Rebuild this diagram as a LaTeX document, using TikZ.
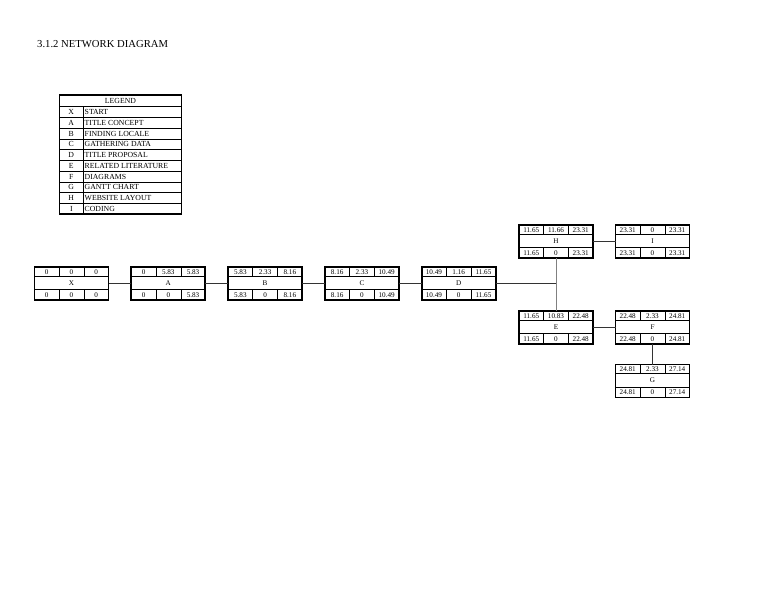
\documentclass[tikz,border=0pt]{standalone}
\usepackage{fontspec}
\setmainfont{Liberation Serif}
\usepackage{tikz}
\newcommand{\pxl}[0] {1.03125pt}
\newcommand{\cellfont}[0] {\fontsize{7.4}{8}\selectfont}
\tikzset{
    actbox/.style={shape=rectangle,draw=black,line width=2pt,inner sep=0pt,outer sep=0pt,
        minimum width=74*\pxl,minimum height=33*\pxl},
    cell/.style={inner sep=0pt,font=\cellfont},
    legtxt/.style={inner sep=0pt,font=\fontsize{8}{9}\selectfont},
    link/.style={-, line width=0.7pt, black!80}
}
%one activity box: name, centre, label, ES, duration, EF, LS, slack, LF
\newcommand{\actnode}[9]{%
    \node[actbox] (#1) at (#2) {};
    \begin{scope}[shift={(#1.north west)}]
        \draw[line width=0.5pt] (0,9) -- (74,9) (0,22.5) -- (74,22.5);
        \draw[line width=0.5pt] (24.5,0) -- (24.5,9) (49.5,0) -- (49.5,9);
        \draw[line width=0.5pt] (24.5,22.5) -- (24.5,33) (49.5,22.5) -- (49.5,33);
        \node[cell] (#1-es) at (12.25,4.7)  {#4};
        \node[cell] (#1-du) at (37,4.7)     {#5};
        \node[cell] (#1-ef) at (61.75,4.7)  {#6};
        \node[cell] (#1-lb) at (37,15.8)    {#3};
        \node[cell] (#1-ls) at (12.25,27.8) {#7};
        \node[cell] (#1-sl) at (37,27.8)    {#8};
        \node[cell] (#1-lf) at (61.75,27.8) {#9};
    \end{scope}}

\begin{document}
\begin{tikzpicture}[x=\pxl, y=-\pxl]
        \useasboundingbox (0,0) rectangle (768,594);
        %title
        \node[anchor=base west, inner sep=0pt, font=\fontsize{11}{13}\selectfont] (title) at (37,48) {3.1.2 NETWORK DIAGRAM};
        %legend
        \node[shape=rectangle,draw=black,line width=1.5pt,minimum width=122.4*\pxl,minimum height=119*\pxl,inner sep=0pt] (legend) at (120.5,154.5) {};
        \node[legtxt] (legend-head) at (120.5,101) {LEGEND};
        \draw[line width=0.5pt] (59.3,106.5) -- (181.7,106.5);
        \draw[line width=0.5pt] (83.3,106.5) -- (83.3,214);
        \foreach \k/\desc [count=\i] in {X/START,A/TITLE CONCEPT,B/FINDING LOCALE,C/GATHERING DATA,D/TITLE PROPOSAL,E/RELATED LITERATURE,F/DIAGRAMS,G/GANTT CHART,H/WEBSITE LAYOUT,I/CODING} {
            \pgfmathsetmacro{\ytop}{106.5+(\i-1)*10.75}
            \node[legtxt] (leg-\k) at (71.3,\ytop+5.6) {\k};
            \node[legtxt, anchor=west] (legdesc-\k) at (84.5,\ytop+5.6) {\desc};
            \ifnum\i<10 \draw[line width=0.5pt] (59.3,\ytop+10.75) -- (181.7,\ytop+10.75); \fi
        }
        %main chain
        \actnode{X}{71.5,283.5}{X}{0}{0}{0}{0}{0}{0}
        \actnode{A}{168.3,283.5}{A}{0}{5.83}{5.83}{0}{0}{5.83}
        \actnode{B}{265.1,283.5}{B}{5.83}{2.33}{8.16}{5.83}{0}{8.16}
        \actnode{C}{361.9,283.5}{C}{8.16}{2.33}{10.49}{8.16}{0}{10.49}
        \actnode{D}{458.7,283.5}{D}{10.49}{1.16}{11.65}{10.49}{0}{11.65}
        %branches after D
        \actnode{H}{556,241.5}{H}{11.65}{11.66}{23.31}{11.65}{0}{23.31}
        \actnode{I}{652.5,241.5}{I}{23.31}{0}{23.31}{23.31}{0}{23.31}
        \actnode{E}{556,327.5}{E}{11.65}{10.83}{22.48}{11.65}{0}{22.48}
        \actnode{F}{652.5,327.5}{F}{22.48}{2.33}{24.81}{22.48}{0}{24.81}
        \actnode{G}{652.5,381}{G}{24.81}{2.33}{27.14}{24.81}{0}{27.14}
        \coordinate (junc) at (D.east -| H.south);
        %connections between
        \path[link] (X) edge (A);
        \path[link] (A) edge (B);
        \path[link] (B) edge (C);
        \path[link] (C) edge (D);
        \path[link] (D.east) edge (junc);
        \path[link, black!50] (H) edge (E);
        \path[link] (H) edge (I);
        \path[link] (E) edge (F);
        \path[link] (F) edge (G);
    \end{tikzpicture}
\end{document}
